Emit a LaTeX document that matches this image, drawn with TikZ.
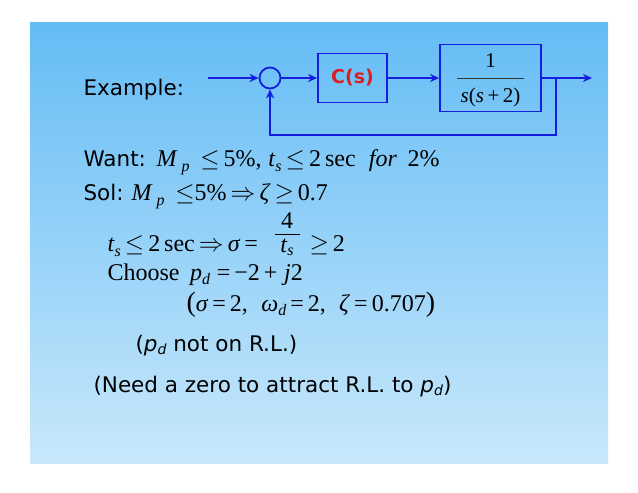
\documentclass[tikz,border=0pt]{standalone}
\usepackage{fontspec}
\setmainfont{Liberation Serif}
\newfontfamily\slsans{DejaVu Sans}
\usetikzlibrary{arrows.meta}
\definecolor{bl}{RGB}{20,30,220}
\definecolor{bgtop}{RGB}{100,188,245}
\definecolor{bgbot}{RGB}{200,232,251}
\definecolor{cred}{RGB}{220,30,30}
\newcommand\sbs[1]{\raisebox{-5pt}{\fontsize{16}{16}\selectfont\textit{#1}}}
\begin{document}
\begin{tikzpicture}[x=1pt,y=-1pt,
  blk/.style={draw=bl,line width=1.8pt,inner sep=0pt},
  wire/.style={draw=bl,line width=1.8pt,-{Stealth[length=9pt,width=8pt]}},
  st/.style={anchor=base west,font=\slsans\fontsize{21.5}{22}\selectfont},
  mt/.style={anchor=base west,font=\fontsize{24}{24}\selectfont}]
\useasboundingbox (0,0) rectangle (638,493);
\fill[white] (0,0) rectangle (638,493);
\shade[top color=bgtop,bottom color=bgbot] (30,22) rectangle (608,463);
% block diagram
\coordinate (in) at (208,78);
\node[blk,circle,minimum size=21pt] (sum) at (270,78) {};
\node[blk,minimum width=69pt,minimum height=49pt,font=\slsans\bfseries\fontsize{19}{19}\selectfont,text=cred] (C) at (352.5,78) {C(s)};
\node[blk,minimum width=101pt,minimum height=67pt] (G) at (490.5,78) {};
\node[font=\fontsize{21}{21}\selectfont] (num) at (490.5,61) {1};
\node[font=\fontsize{21}{21}\selectfont] (den) at (490.5,97) {\textit{s}(\textit{s}\,+\,2)};
\draw[black!80,line width=0.8pt] (457,78) -- (524,78);
\coordinate (br) at (556,78);
\coordinate (out) at (592,78);
\coordinate (fb1) at (556,135);
\coordinate (fb2) at (270,135);
\draw[wire] (in) -- (sum.west);
\draw[wire] (sum.east) -- (C.west);
\draw[wire] (C.east) -- (G.west);
\draw[wire] (G.east) -- (out);
\draw[wire] (br) -- (fb1) -- (fb2) -- (sum.south);
% text
\node[st] (ex) at (80,95) {Example:};
\node[st] (want) at (80,166) {Want:};
\node[mt] (wm) at (153,166) {\textit{M}\,\sbs{p}\;\,$\le$\,5\%,\;\textit{t}\sbs{s}\,$\le$\,2\,sec\;\;\textit{for}\;\,2\%};
\node[st] (sol) at (80,200) {Sol:};
\node[mt] (s1) at (128,200) {\textit{M}\,\sbs{p}\;\,$\le$5\%\,$\Rightarrow$\,\textit{ζ}\,$\ge$\,0.7};
\node[mt] (s2) at (104,251) {\textit{t}\sbs{s}\,$\le$\,2\,sec\,$\Rightarrow$\,\textit{σ}\,=};
\node[font=\fontsize{24}{24}\selectfont,inner sep=0pt] (f4) at (287,221) {4};
\draw[black,line width=0.9pt] (275,234) -- (300,234);
\node[font=\fontsize{24}{24}\selectfont,inner sep=0pt,anchor=base] (fts) at (287,252) {\textit{t}\raisebox{-3pt}{\fontsize{16}{16}\selectfont\textit{s}}};
\node[mt] (ge) at (306,251) {$\ge$\,2};
\node[mt] (s3) at (104,280) {Choose\;\,\textit{p}\raisebox{-4pt}{\fontsize{16}{16}\selectfont\textit{d}}\;=\,−2\,+\;\textit{j}2};
\node[mt] (s4) at (183,311) {\fontsize{28}{28}\selectfont(\fontsize{24}{24}\selectfont\textit{σ}\,=\,2,\;\;\textit{ω}\raisebox{-4pt}{\fontsize{16}{16}\selectfont\textit{d}}\,=\,2,\;\;\textit{ζ}\,=\,0.707\fontsize{28}{28}\selectfont)};
\node[st] (n1) at (132,351) {(\textit{p}\raisebox{-3pt}{\fontsize{14}{14}\selectfont\textit{d}} not on R.L.)};
\node[st] (n2) at (90,392) {(Need a zero to attract R.L. to \textit{p}\raisebox{-3pt}{\fontsize{14}{14}\selectfont\textit{d}})};
\end{tikzpicture}
\end{document}
